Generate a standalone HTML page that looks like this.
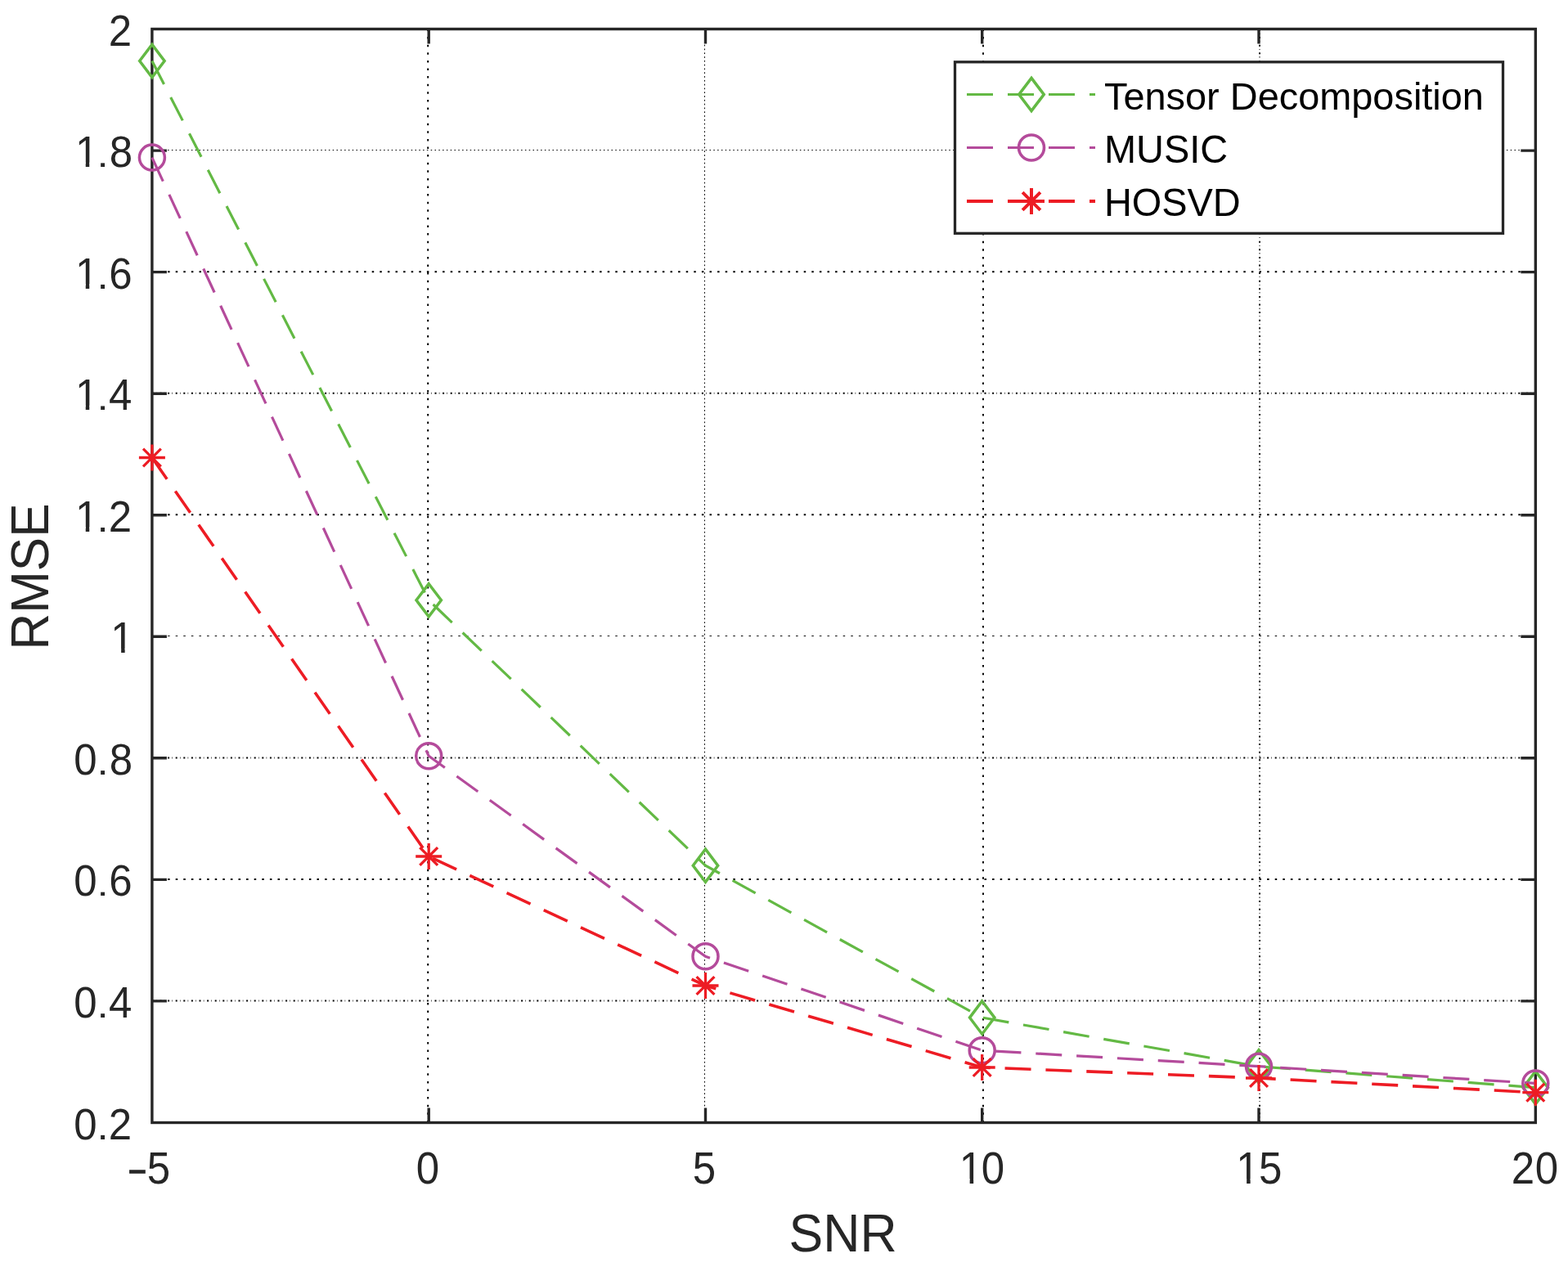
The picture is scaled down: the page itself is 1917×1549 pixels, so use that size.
<!DOCTYPE html><html><head><meta charset="utf-8"><title>RMSE vs SNR</title><style>html,body{margin:0;padding:0;background:#fff;overflow:hidden}svg{display:block}text{font-family:"Liberation Sans",Arial,Helvetica,sans-serif}</style></head><body>
<svg width="1917" height="1549" viewBox="0 0 1917 1549">
<rect width="1917" height="1549" fill="#fff"/>
<g stroke="#000" stroke-width="2" fill="none"><path d="M523.2 35.5V1372.5" stroke-dasharray="2.5 7.1" stroke-width="2"/><path d="M861.5 35.5V1372.5" stroke-dasharray="1.7 3.1" stroke-width="1"/><path d="M1202.0 35.5V1372.5" stroke-dasharray="2.5 7.1" stroke-width="2"/><path d="M1540.0 35.5V1372.5" stroke-dasharray="2 3.3 0.6 3.7" stroke-width="2"/><path d="M185.9 1223.5H1877.3" stroke-dasharray="2 3.3 0.6 3.7" stroke-width="2"/><path d="M185.9 1075.0H1877.3" stroke-dasharray="2.5 7.1" stroke-width="2"/><path d="M185.9 926.4H1877.3" stroke-dasharray="2 3.3 0.6 3.7" stroke-width="2"/><path d="M185.9 777.5H1877.3" stroke-dasharray="2.5 7.1" stroke-width="1"/><path d="M185.9 629.3H1877.3" stroke-dasharray="2.5 7.1" stroke-width="2"/><path d="M185.9 480.8H1877.3" stroke-dasharray="2 3.3 0.6 3.7" stroke-width="2"/><path d="M185.9 332.2H1877.3" stroke-dasharray="2.5 7.1" stroke-width="2"/><path d="M185.9 183.5H1877.3" stroke-dasharray="1.5 3.3" stroke-width="1"/></g>
<path d="M524.2 1372.5v-18M524.2 35.5v18M862.5 1372.5v-18M862.5 35.5v18M1200.7 1372.5v-18M1200.7 35.5v18M1539.0 1372.5v-18M1539.0 35.5v18M185.9 1223.9h18M1877.3 1223.9h-18M185.9 1075.4h18M1877.3 1075.4h-18M185.9 926.8h18M1877.3 926.8h-18M185.9 778.3h18M1877.3 778.3h-18M185.9 629.7h18M1877.3 629.7h-18M185.9 481.2h18M1877.3 481.2h-18M185.9 332.6h18M1877.3 332.6h-18M185.9 184.1h18M1877.3 184.1h-18" stroke="#262626" stroke-width="3.4" fill="none"/>
<rect x="185.9" y="35.5" width="1691.4" height="1337.0" fill="none" stroke="#262626" stroke-width="3.4"/>
<g font-size="51.0" fill="#262626"><text transform="translate(0 55.60) scale(1 1.069)" x="132.82" y="0">2</text><text transform="translate(0 204.16) scale(1 1.069)" x="91.92 118.47 133.72" y="0">1.8</text><text transform="translate(0 352.71) scale(1 1.069)" x="91.92 118.47 133.14" y="0">1.6</text><text transform="translate(0 501.27) scale(1 1.069)" x="91.92 118.47 133.03" y="0">1.4</text><text transform="translate(0 649.82) scale(1 1.069)" x="91.92 118.47 132.82" y="0">1.2</text><text transform="translate(0 798.38) scale(1 1.069)" x="135.32" y="0">1</text><text transform="translate(0 946.93) scale(1 1.069)" x="90.32 118.47 133.82" y="0">0.8</text><text transform="translate(0 1095.49) scale(1 1.069)" x="90.32 118.47 133.14" y="0">0.6</text><text transform="translate(0 1244.04) scale(1 1.069)" x="90.32 118.47 133.03" y="0">0.4</text><text transform="translate(0 1392.60) scale(1 1.069)" x="90.32 118.47 132.82" y="0">0.2</text><text transform="translate(0 1446.70) scale(1 1.074)" x="508.82" y="0">0</text><text transform="translate(0 1446.70) scale(1 1.074)" x="846.87" y="0">5</text><text transform="translate(0 1446.70) scale(1 1.074)" x="1172.82 1199.82" y="0">10</text><text transform="translate(0 1446.70) scale(1 1.074)" x="1511.32 1538.97" y="0">15</text><text transform="translate(0 1446.70) scale(1 1.074)" x="1847.72 1876.82" y="0">20</text><text transform="translate(0 1446.7) scale(1 1.074)" y="0"><tspan x="157.00" y="-0.4" font-size="37.5" stroke="#262626" stroke-width="1.5">−</tspan><tspan x="179.87" y="0">5</tspan></text></g>
<g fill="#fff"><rect x="94.41" y="198.76" width="10.33" height="6.20"/><rect x="109.25" y="198.76" width="10.06" height="6.20"/><rect x="94.41" y="347.31" width="10.33" height="6.20"/><rect x="109.25" y="347.31" width="10.06" height="6.20"/><rect x="94.41" y="495.87" width="10.33" height="6.20"/><rect x="109.25" y="495.87" width="10.06" height="6.20"/><rect x="94.41" y="644.42" width="10.33" height="6.20"/><rect x="109.25" y="644.42" width="10.06" height="6.20"/><rect x="137.81" y="792.98" width="10.33" height="6.20"/><rect x="152.65" y="792.98" width="10.06" height="6.20"/><rect x="1175.31" y="1441.28" width="10.33" height="6.22"/><rect x="1190.15" y="1441.28" width="10.06" height="6.22"/><rect x="1513.81" y="1441.28" width="10.33" height="6.22"/><rect x="1528.65" y="1441.28" width="10.06" height="6.22"/><rect x="122.20" y="196.66" width="6.72" height="2.7"/><rect x="122.20" y="345.21" width="6.72" height="2.7"/><rect x="122.20" y="493.77" width="6.72" height="2.7"/><rect x="122.20" y="642.32" width="6.72" height="2.7"/><rect x="122.20" y="939.43" width="6.72" height="2.7"/><rect x="122.20" y="1087.99" width="6.72" height="2.7"/><rect x="122.20" y="1236.54" width="6.72" height="2.7"/><rect x="122.20" y="1385.10" width="6.72" height="2.7"/></g>
<text transform="translate(964.5 1530) scale(1.0 1.041)" x="0" y="0" font-size="62.6" fill="#262626">SNR</text>
<text transform="translate(58.9 794.5) rotate(-90) scale(0.99 1.042)" x="0" y="0" font-size="62.6" fill="#262626">RMSE</text>
<polyline points="185.9,74.5 524.2,733.8 862.5,1058.2 1200.7,1244.1 1539.0,1303.8 1877.3,1329.7" fill="none" stroke="#63b944" stroke-width="3.2" stroke-dasharray="32 17.9"/>
<path d="M185.9 54.4L201.1 74.5L185.9 94.6L170.7 74.5Z" fill="none" stroke="#63b944" stroke-width="3.5"/>
<path d="M524.2 713.7L539.4 733.8L524.2 753.9L509.0 733.8Z" fill="none" stroke="#63b944" stroke-width="3.5"/>
<path d="M862.5 1038.1L877.7 1058.2L862.5 1078.3L847.3 1058.2Z" fill="none" stroke="#63b944" stroke-width="3.5"/>
<path d="M1200.7 1224.0L1215.9 1244.1L1200.7 1264.2L1185.5 1244.1Z" fill="none" stroke="#63b944" stroke-width="3.5"/>
<path d="M1539.0 1283.7L1554.2 1303.8L1539.0 1323.9L1523.8 1303.8Z" fill="none" stroke="#63b944" stroke-width="3.5"/>
<path d="M1877.3 1309.6L1892.5 1329.7L1877.3 1349.8L1862.1 1329.7Z" fill="none" stroke="#63b944" stroke-width="3.5"/>
<polyline points="185.9,192.6 524.2,924.3 862.5,1169.3 1200.7,1284.2 1539.0,1303.7 1877.3,1324.4" fill="none" stroke="#b44b9b" stroke-width="3.2" stroke-dasharray="32 17.9"/>
<circle cx="185.9" cy="192.6" r="15.5" fill="none" stroke="#b44b9b" stroke-width="3.5"/>
<circle cx="524.2" cy="924.3" r="15.5" fill="none" stroke="#b44b9b" stroke-width="3.5"/>
<circle cx="862.5" cy="1169.3" r="15.5" fill="none" stroke="#b44b9b" stroke-width="3.5"/>
<circle cx="1200.7" cy="1284.2" r="15.5" fill="none" stroke="#b44b9b" stroke-width="3.5"/>
<circle cx="1539.0" cy="1303.7" r="15.5" fill="none" stroke="#b44b9b" stroke-width="3.5"/>
<circle cx="1877.3" cy="1324.4" r="15.5" fill="none" stroke="#b44b9b" stroke-width="3.5"/>
<polyline points="185.9,559.5 524.2,1047.0 862.5,1205.0 1200.7,1305.0 1539.0,1318.0 1877.3,1335.7" fill="none" stroke="#ed1c24" stroke-width="3.6" stroke-dasharray="32 17.9"/>
<path d="M169.9 559.5H201.9M185.9 543.5V575.5M175.0 548.6L196.8 570.4M175.0 570.4L196.8 548.6" stroke="#ed1c24" stroke-width="3.3" fill="none"/>
<path d="M508.2 1047.0H540.2M524.2 1031.0V1063.0M513.3 1036.1L535.1 1057.9M513.3 1057.9L535.1 1036.1" stroke="#ed1c24" stroke-width="3.3" fill="none"/>
<path d="M846.5 1205.0H878.5M862.5 1189.0V1221.0M851.6 1194.1L873.4 1215.9M851.6 1215.9L873.4 1194.1" stroke="#ed1c24" stroke-width="3.3" fill="none"/>
<path d="M1184.7 1305.0H1216.7M1200.7 1289.0V1321.0M1189.8 1294.1L1211.6 1315.9M1189.8 1315.9L1211.6 1294.1" stroke="#ed1c24" stroke-width="3.3" fill="none"/>
<path d="M1523.0 1318.0H1555.0M1539.0 1302.0V1334.0M1528.1 1307.1L1549.9 1328.9M1528.1 1328.9L1549.9 1307.1" stroke="#ed1c24" stroke-width="3.3" fill="none"/>
<path d="M1861.3 1335.7H1893.3M1877.3 1319.7V1351.7M1866.4 1324.8L1888.2 1346.6M1866.4 1346.6L1888.2 1324.8" stroke="#ed1c24" stroke-width="3.3" fill="none"/>
<rect x="1167.5" y="75.8" width="670" height="209.5" fill="#fff" stroke="#262626" stroke-width="3.3"/>
<path d="M1182 115.5H1339" stroke="#63b944" stroke-width="3.0" stroke-dasharray="32 18" fill="none"/>
<path d="M1261.0 95.4L1276.2 115.5L1261.0 135.6L1245.8 115.5Z" fill="none" stroke="#63b944" stroke-width="3.6"/>
<text x="1350" y="133.8" font-size="46.9" fill="#000">Tensor Decomposition</text>
<path d="M1182 180.5H1339" stroke="#b44b9b" stroke-width="3.0" stroke-dasharray="32 18" fill="none"/>
<circle cx="1261.0" cy="180.5" r="15.5" fill="none" stroke="#b44b9b" stroke-width="3.6"/>
<text transform="translate(1350 198.8) scale(1 1.03)" x="0" y="0" font-size="46.9" fill="#000">MUSIC</text>
<path d="M1182 246H1339" stroke="#ed1c24" stroke-width="4" stroke-dasharray="32 18" fill="none"/>
<path d="M1245.0 246.0H1277.0M1261.0 230.0V262.0M1250.1 235.1L1271.9 256.9M1250.1 256.9L1271.9 235.1" stroke="#ed1c24" stroke-width="4" fill="none"/>
<text transform="translate(1350 264.3) scale(1 1.03)" x="0" y="0" font-size="46.9" fill="#000">HOSVD</text>
</svg></body></html>
